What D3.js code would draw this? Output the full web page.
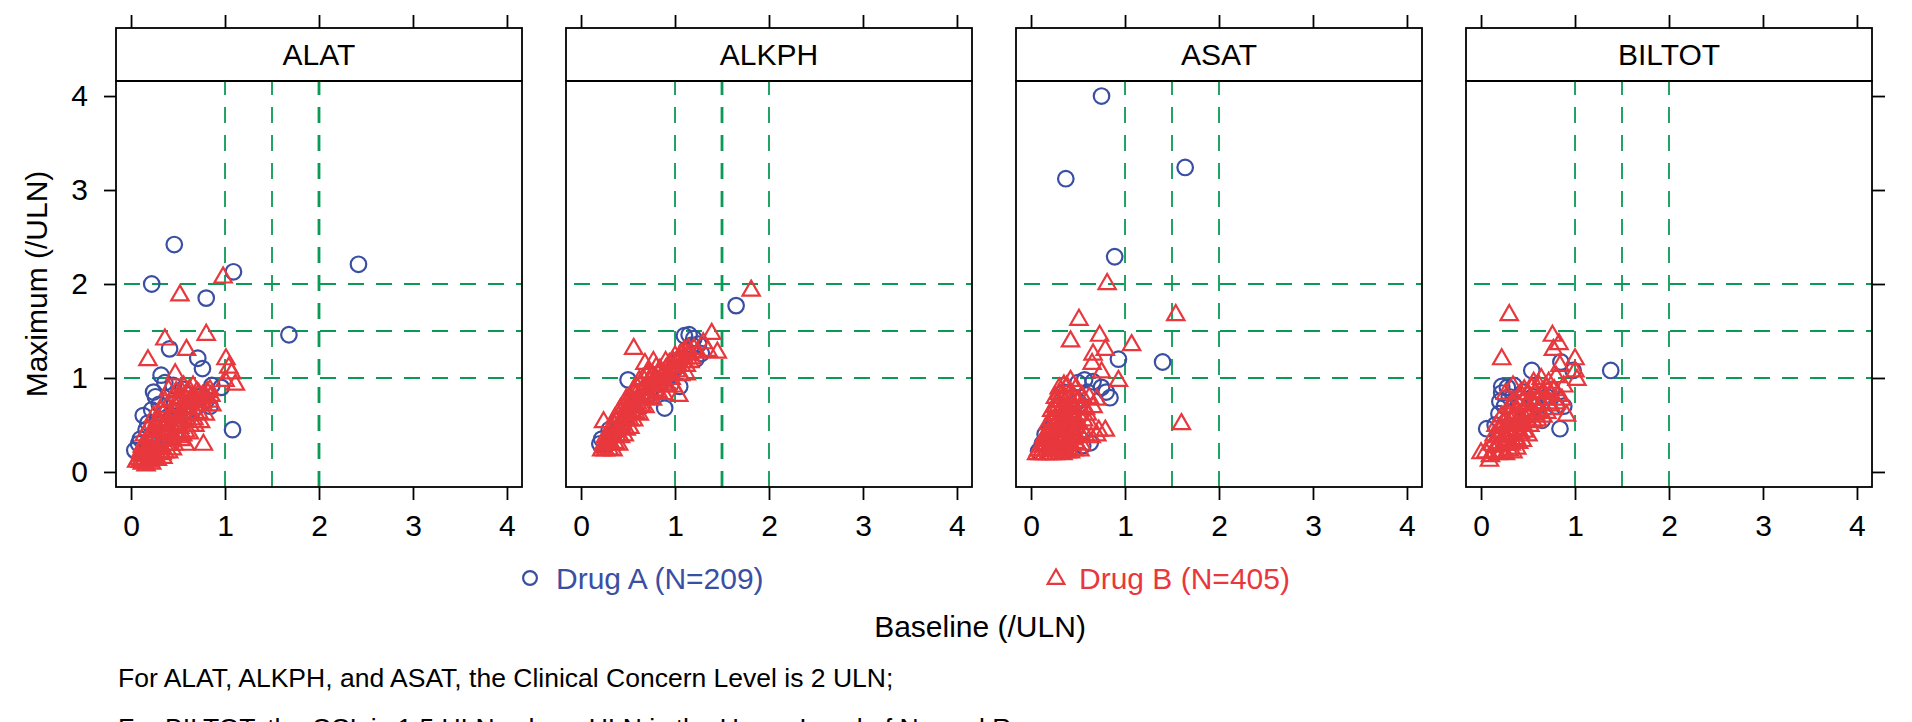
<!DOCTYPE html>
<html>
<head>
<meta charset="utf-8">
<script src="https://cdn.jsdelivr.net/npm/d3@7"></script>
<style>
  body { margin: 0; background: #fff; }
  svg { display: block; font-family: "Liberation Sans", Arial, Helvetica, sans-serif; }
  .tick line { stroke: #000; stroke-width: 1.8; }
</style>
</head>
<body>
<svg id="chart" width="1912" height="722"></svg>
<script>
// panels and reference lines
const panels = ["ALAT", "ALKPH", "ASAT", "BILTOT"];
const tickValues = [0, 1, 2, 3, 4];
const refLevels = [1, 1.5, 2];
const cclLines = {ALAT: 2, ALKPH: 1.5};
const legendLabels = ["Drug A (N=209)", "Drug B (N=405)"];
const xLabel = "Baseline (/ULN)";
const yLabel = "Maximum (/ULN)";
const notes = [
  "For ALAT, ALKPH, and ASAT, the Clinical Concern Level is 2 ULN;",
  "For BILTOT, the CCL is 1.5 ULN: where ULN is the Upper Level of Normal Range"
];

// [baseline, maximum]
const alatA = [[0.46,2.42],[0.22,2.0],[0.80,1.85],[1.09,2.13],[2.42,2.21],[1.68,1.46],[0.41,1.31],[0.71,1.21],[0.76,1.10],[0.32,1.03],[1.08,0.45],[0.96,0.90],[0.86,0.92],[0.13,0.60],[0.04,0.23],[0.24,0.85],[0.26,0.80],[0.30,0.72],[0.22,0.66],[0.36,0.95],[0.45,0.92],[0.55,0.88],[0.62,0.82],[0.72,0.80],[0.80,0.76],[0.84,0.70],[0.10,0.35],[0.16,0.45],[0.08,0.30],[0.12,0.20],[0.20,0.30],[0.30,0.50],[0.40,0.55],[0.50,0.60],[0.60,0.65],[0.35,0.40],[0.25,0.35],[0.18,0.52],[0.70,0.70],[0.46,0.72]];
const alatB = [[0.98,2.08],[0.52,1.89],[0.80,1.47],[0.36,1.42],[0.59,1.31],[0.18,1.20],[1.01,1.21],[1.04,1.12],[1.07,1.06],[1.11,0.94],[1.00,0.98],[0.47,1.05],[0.77,0.30],[0.58,0.30],[0.62,0.42],[0.68,0.50],
  [0.06,0.12],[0.08,0.15],[0.10,0.12],[0.12,0.18],[0.14,0.14],[0.16,0.20],[0.18,0.13],[0.10,0.22],[0.12,0.28],[0.15,0.32],[0.18,0.26],[0.20,0.18],[0.22,0.24],[0.24,0.16],[0.20,0.38],[0.22,0.44],[0.25,0.30],[0.27,0.22],[0.28,0.36],[0.30,0.28],[0.26,0.50],[0.28,0.56],[0.30,0.44],[0.32,0.34],[0.33,0.20],[0.34,0.62],[0.35,0.50],[0.36,0.40],[0.38,0.30],[0.38,0.70],[0.40,0.56],[0.41,0.46],[0.42,0.36],[0.44,0.25],[0.43,0.78],[0.45,0.66],[0.46,0.52],[0.48,0.42],[0.48,0.86],[0.50,0.72],[0.51,0.60],[0.52,0.48],[0.53,0.35],[0.54,0.80],[0.56,0.68],[0.57,0.55],[0.58,0.44],[0.60,0.86],[0.61,0.74],[0.62,0.62],[0.63,0.50],[0.65,0.80],[0.66,0.68],[0.67,0.57],[0.70,0.86],[0.71,0.75],[0.72,0.64],[0.74,0.54],[0.76,0.82],[0.77,0.72],[0.79,0.62],[0.81,0.86],[0.83,0.76],[0.85,0.82],[0.86,0.72],[0.16,0.08],[0.22,0.10],[0.28,0.14],[0.34,0.16],[0.40,0.22],[0.46,0.30],[0.50,0.38],[0.55,0.40],[0.14,0.40],[0.18,0.46],[0.24,0.60],[0.32,0.66],[0.40,0.88],[0.36,0.76],[0.56,0.92],[0.66,0.92],
  [0.12,0.10],[0.20,0.12],[0.26,0.18],[0.32,0.26],[0.36,0.22],[0.40,0.30],[0.44,0.40],[0.48,0.50],[0.52,0.58],[0.56,0.62],[0.60,0.70],[0.64,0.76],[0.68,0.80],[0.72,0.84],[0.76,0.76],[0.80,0.80],[0.84,0.88],[0.30,0.56],[0.34,0.46],[0.38,0.52],[0.42,0.60],[0.46,0.64],[0.50,0.78],[0.54,0.86],[0.58,0.78],[0.62,0.88],[0.24,0.40],[0.28,0.46],[0.16,0.26],[0.20,0.30]];

const alkphA = [[1.65,1.77],[0.50,0.98],[1.10,1.45],[1.15,1.46],[1.20,1.42],[1.25,1.36],[1.28,1.26],[1.22,1.20],[1.05,0.91],[0.89,0.68],[0.20,0.30],[0.22,0.35],[0.30,0.45],[0.40,0.55],[0.55,0.65],[0.70,0.80],[0.85,0.95],[1.00,1.10],[1.12,1.30],[0.45,0.50],[0.60,0.72],[0.75,0.90],[0.95,1.05],[0.35,0.40],[0.28,0.30],[0.65,0.70],[0.80,0.85],[0.93,1.00],[1.05,1.20],[1.18,1.35]];
const alkphB = [[1.81,1.94],[0.56,1.32],[1.39,1.48],[1.45,1.28],[1.04,0.82],[0.24,0.54],[0.68,1.16],[0.77,1.18],[1.30,1.38],[1.35,1.30],
  [0.22,0.24],[0.26,0.24],[0.30,0.25],[0.34,0.24],[0.24,0.30],[0.28,0.32],[0.32,0.30],[0.36,0.32],[0.40,0.30],[0.26,0.38],[0.30,0.40],[0.34,0.38],[0.38,0.40],[0.42,0.38],[0.46,0.40],[0.32,0.48],[0.36,0.50],[0.40,0.47],[0.44,0.48],[0.48,0.46],[0.52,0.48],[0.36,0.58],[0.40,0.60],[0.44,0.56],[0.48,0.58],[0.52,0.56],[0.56,0.56],[0.42,0.68],[0.46,0.70],[0.50,0.66],[0.54,0.66],[0.58,0.64],[0.62,0.62],[0.48,0.78],[0.52,0.80],[0.56,0.76],[0.60,0.74],[0.64,0.72],[0.68,0.70],[0.56,0.88],[0.60,0.90],[0.64,0.84],[0.68,0.82],[0.72,0.80],[0.76,0.78],[0.62,0.98],[0.66,1.00],[0.70,0.94],[0.74,0.92],[0.78,0.88],[0.82,0.86],[0.72,1.06],[0.76,1.04],[0.80,1.00],[0.84,0.96],[0.88,0.94],[0.92,0.92],[0.80,1.12],[0.84,1.10],[0.88,1.06],[0.92,1.04],[0.96,1.00],[0.90,1.18],[0.94,1.16],[0.98,1.12],[1.02,1.08],[1.06,1.04],[1.00,1.24],[1.04,1.22],[1.08,1.18],[1.12,1.14],[1.10,1.30],[1.14,1.26],[1.18,1.22],[1.20,1.32],[1.24,1.28],[0.98,0.92],[0.88,0.84],[1.12,1.05],
  [0.24,0.27],[0.30,0.34],[0.38,0.44],[0.42,0.52],[0.46,0.62],[0.50,0.72],[0.54,0.72],[0.58,0.82],[0.62,0.80],[0.66,0.90],[0.70,0.88],[0.74,0.98],[0.78,0.96],[0.82,1.06],[0.86,1.02],[0.90,1.10],[0.94,1.08],[0.98,1.18],[1.02,1.16],[1.06,1.26],[1.10,1.22],[1.14,1.32],[1.16,1.18]];

const asatA = [[0.75,4.0],[0.37,3.12],[1.64,3.24],[0.89,2.29],[0.93,1.20],[1.40,1.17],[0.57,0.98],[0.50,0.95],[0.66,0.96],[0.75,0.90],[0.84,0.79],[0.80,0.85],[0.63,0.31],[0.15,0.40],[0.20,0.45],[0.55,0.28],[0.12,0.30],[0.25,0.55],[0.35,0.60],[0.45,0.50],[0.30,0.35],[0.40,0.30],[0.50,0.75],[0.60,0.85],[0.20,0.25],[0.08,0.22],[0.35,0.85],[0.45,0.65]];
const asatB = [[0.81,2.01],[0.51,1.63],[1.54,1.68],[0.42,1.40],[0.73,1.46],[0.79,1.31],[1.07,1.36],[0.66,1.26],[0.65,1.16],[0.75,1.07],[0.93,0.98],[0.42,0.98],[0.35,0.93],[1.60,0.52],[0.79,0.45],
  [0.06,0.20],[0.10,0.20],[0.14,0.20],[0.18,0.20],[0.22,0.20],[0.26,0.20],[0.30,0.21],[0.34,0.20],[0.38,0.22],[0.42,0.22],[0.46,0.24],[0.52,0.24],[0.10,0.28],[0.14,0.30],[0.18,0.27],[0.22,0.32],[0.26,0.28],[0.30,0.33],[0.34,0.28],[0.38,0.32],[0.42,0.30],[0.48,0.32],[0.54,0.30],[0.14,0.38],[0.18,0.42],[0.22,0.38],[0.26,0.44],[0.30,0.40],[0.34,0.45],[0.38,0.40],[0.42,0.44],[0.46,0.40],[0.52,0.42],[0.58,0.40],[0.64,0.38],[0.70,0.40],[0.72,0.45],[0.18,0.52],[0.22,0.56],[0.26,0.52],[0.30,0.58],[0.34,0.54],[0.38,0.58],[0.42,0.54],[0.46,0.58],[0.50,0.54],[0.56,0.56],[0.62,0.52],[0.22,0.66],[0.26,0.70],[0.30,0.66],[0.34,0.72],[0.38,0.68],[0.42,0.72],[0.46,0.68],[0.52,0.70],[0.58,0.68],[0.66,0.70],[0.26,0.80],[0.30,0.84],[0.34,0.80],[0.40,0.82],[0.46,0.80],[0.54,0.82],[0.62,0.80],[0.30,0.90],[0.38,0.92],[0.48,0.90],[0.70,0.78],[0.60,0.62],
  [0.08,0.24],[0.12,0.24],[0.16,0.24],[0.20,0.24],[0.24,0.24],[0.28,0.26],[0.32,0.24],[0.36,0.26],[0.40,0.26],[0.16,0.34],[0.20,0.36],[0.24,0.36],[0.28,0.38],[0.32,0.36],[0.36,0.38],[0.40,0.36],[0.44,0.36],[0.20,0.46],[0.24,0.48],[0.28,0.48],[0.32,0.50],[0.36,0.46],[0.40,0.50],[0.44,0.48],[0.48,0.48],[0.24,0.62],[0.28,0.62],[0.32,0.62],[0.36,0.64],[0.40,0.64],[0.44,0.62],[0.50,0.62],[0.28,0.76],[0.32,0.76],[0.36,0.76],[0.44,0.74],[0.50,0.76]];

const biltotA = [[1.38,1.08],[0.84,0.46],[0.06,0.46],[0.22,0.91],[0.22,0.84],[0.54,1.08],[0.85,1.17],[0.98,1.08],[0.19,0.62],[0.30,0.80],[0.28,0.90],[0.35,0.92],[0.20,0.75],[0.40,0.70],[0.50,0.60],[0.60,0.70],[0.70,0.80],[0.75,0.88],[0.80,0.70],[0.65,0.55],[0.45,0.85],[0.15,0.50],[0.30,0.40],[0.35,0.55],[0.55,0.80],[0.88,0.70],[0.25,0.70]];
const biltotB = [[0.30,1.68],[0.22,1.21],[0.76,1.46],[0.83,1.37],[0.77,1.31],[1.00,1.21],[0.84,1.14],[1.00,1.08],[1.02,0.99],[0.91,0.61],[0.00,0.21],[0.09,0.13],
  [0.05,0.22],[0.10,0.18],[0.14,0.22],[0.18,0.20],[0.22,0.22],[0.26,0.20],[0.30,0.24],[0.34,0.22],[0.38,0.26],[0.12,0.30],[0.16,0.28],[0.20,0.32],[0.24,0.30],[0.28,0.34],[0.32,0.30],[0.36,0.36],[0.40,0.32],[0.44,0.34],[0.14,0.40],[0.18,0.38],[0.22,0.42],[0.26,0.40],[0.30,0.44],[0.34,0.40],[0.38,0.46],[0.42,0.42],[0.46,0.44],[0.50,0.40],[0.16,0.50],[0.20,0.48],[0.24,0.52],[0.28,0.50],[0.32,0.54],[0.36,0.50],[0.40,0.56],[0.44,0.52],[0.48,0.56],[0.52,0.50],[0.56,0.54],[0.22,0.60],[0.26,0.58],[0.30,0.62],[0.34,0.60],[0.38,0.64],[0.42,0.60],[0.46,0.66],[0.50,0.62],[0.54,0.66],[0.58,0.62],[0.62,0.66],[0.66,0.60],[0.30,0.70],[0.34,0.74],[0.40,0.72],[0.44,0.76],[0.48,0.72],[0.52,0.78],[0.56,0.74],[0.60,0.78],[0.64,0.74],[0.68,0.78],[0.72,0.72],[0.76,0.68],[0.80,0.74],[0.42,0.84],[0.46,0.88],[0.50,0.84],[0.54,0.90],[0.58,0.86],[0.62,0.92],[0.66,0.86],[0.70,0.90],[0.74,0.84],[0.78,0.88],[0.82,0.82],[0.86,0.78],[0.56,0.96],[0.64,1.00],[0.72,0.96],[0.80,1.02],[0.88,0.92],[0.34,0.92],[0.26,0.84],[0.60,0.56],[0.70,0.64]];

const drugA = {ALAT: alatA, ALKPH: alkphA, ASAT: asatA, BILTOT: biltotA};
const drugB = {ALAT: alatB, ALKPH: alkphB, ASAT: asatB, BILTOT: biltotB};

const blue = "#3a4fa3", red = "#e8383d", green = "#0b9a55";
const fontSize = 30;

const panelW = 406, panelH = 406;
const panelLeft = 116, panelGap = 450;
const stripTop = 28, plotTop = 81;

const svg = d3.select("#chart");

const x = d3.scaleLinear().domain([-0.16, 4.16]).range([0, panelW]);
const y = d3.scaleLinear().domain([-0.16, 4.16]).range([panelH, 0]);

const circle = d3.symbol(d3.symbolCircle, 190);
const triangle = d3.symbol(d3.symbolTriangle, 130);

panels.forEach((name, i) => {
    const g = svg.append("g")
        .attr("transform", "translate(" + (panelLeft + i * panelGap) + "," + plotTop + ")");

    // strip
    g.append("rect")
        .attr("x", 0).attr("y", stripTop - plotTop)
        .attr("width", panelW).attr("height", plotTop - stripTop)
        .attr("fill", "#fff").attr("stroke", "#000").attr("stroke-width", 1.8);
    g.append("text")
        .attr("x", panelW / 2).attr("y", (stripTop - plotTop) / 2)
        .attr("dy", "0.36em")
        .attr("text-anchor", "middle")
        .style("font-size", fontSize + "px")
        .text(name);

    // reference lines
    refLevels.forEach(v => {
        g.append("line")
            .attr("x1", x(v)).attr("x2", x(v))
            .attr("y1", panelH).attr("y2", 0)
            .attr("stroke", green)
            .attr("stroke-width", cclLines[name] === v ? 2.8 : 1.8)
            .attr("stroke-dasharray", "16,12");
        g.append("line")
            .attr("x1", 8).attr("x2", panelW)
            .attr("y1", y(v)).attr("y2", y(v))
            .attr("stroke", green)
            .attr("stroke-width", 1.8)
            .attr("stroke-dasharray", "16,12");
    });

    // points
    g.selectAll(".ptA")
        .data(drugA[name])
        .enter().append("path")
        .attr("class", "ptA")
        .attr("transform", d => "translate(" + x(d[0]) + "," + y(d[1]) + ")")
        .attr("d", circle)
        .attr("fill", "none")
        .attr("stroke", blue)
        .attr("stroke-width", 2.2);

    g.selectAll(".ptB")
        .data(drugB[name])
        .enter().append("path")
        .attr("class", "ptB")
        .attr("transform", d => "translate(" + x(d[0]) + "," + (y(d[1]) + 1) + ")")
        .attr("d", triangle)
        .attr("fill", "none")
        .attr("stroke", red)
        .attr("stroke-width", 2.2);

    // axes
    const bottom = g.append("g")
        .attr("transform", "translate(0," + panelH + ")")
        .call(d3.axisBottom(x).tickValues(tickValues).tickSize(13).tickPadding(15).tickFormat(d3.format("d")));
    bottom.select(".domain").remove();
    bottom.selectAll("text").style("font-size", fontSize + "px").attr("fill", "#000");

    const top = g.append("g")
        .attr("transform", "translate(0," + (stripTop - plotTop) + ")")
        .call(d3.axisTop(x).tickValues(tickValues).tickSize(13).tickFormat(""));
    top.select(".domain").remove();

    if (i === 0) {
        const left = g.append("g")
            .call(d3.axisLeft(y).tickValues(tickValues).tickSize(12).tickPadding(16).tickFormat(d3.format("d")));
        left.select(".domain").remove();
        left.selectAll("text").style("font-size", fontSize + "px").attr("fill", "#000");
    }
    if (i === panels.length - 1) {
        const right = g.append("g")
            .attr("transform", "translate(" + panelW + ",0)")
            .call(d3.axisRight(y).tickValues(tickValues).tickSize(13).tickFormat(""));
        right.select(".domain").remove();
    }

    // panel border
    g.append("rect")
        .attr("x", 0).attr("y", 0)
        .attr("width", panelW).attr("height", panelH)
        .attr("fill", "none").attr("stroke", "#000").attr("stroke-width", 1.8);
});

// y axis title
svg.append("text")
    .attr("transform", "translate(47," + (plotTop + panelH / 2) + ") rotate(-90)")
    .attr("text-anchor", "middle")
    .style("font-size", fontSize + "px")
    .text(yLabel);

// legend
const legend = svg.append("g").attr("transform", "translate(0,578)");
legend.append("path")
    .attr("transform", "translate(530,0)")
    .attr("d", d3.symbol(d3.symbolCircle, 150))
    .attr("fill", "none").attr("stroke", blue).attr("stroke-width", 2.2);
legend.append("text")
    .attr("x", 556).attr("y", 0).attr("dy", "0.36em")
    .attr("fill", blue)
    .style("font-size", fontSize + "px")
    .text(legendLabels[0]);
legend.append("path")
    .attr("transform", "translate(1056,1)")
    .attr("d", d3.symbol(d3.symbolTriangle, 120))
    .attr("fill", "none").attr("stroke", red).attr("stroke-width", 2.2);
legend.append("text")
    .attr("x", 1079).attr("y", 0).attr("dy", "0.36em")
    .attr("fill", red)
    .style("font-size", fontSize + "px")
    .text(legendLabels[1]);

// x axis title
svg.append("text")
    .attr("x", 980).attr("y", 637)
    .attr("text-anchor", "middle")
    .style("font-size", fontSize + "px")
    .text(xLabel);

// footnotes
svg.selectAll(".note")
    .data(notes)
    .enter().append("text")
    .attr("class", "note")
    .attr("x", 118)
    .attr("y", (d, i) => 687 + i * 50)
    .style("font-size", "26.5px")
    .text(d => d);
</script>
</body>
</html>
